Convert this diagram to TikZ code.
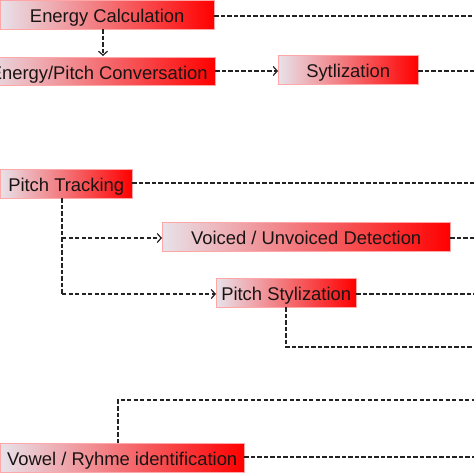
\documentclass[tikz,border=0pt]{standalone}
\usepackage{fontspec}
\setmainfont{Liberation Sans}
\usetikzlibrary{arrows.meta}
\definecolor{boxleft}{RGB}{232,226,234}
\definecolor{linecol}{RGB}{35,35,35}
\definecolor{txtcol}{RGB}{25,20,20}
\begin{document}
\begin{tikzpicture}[x=1pt,y=-1pt,
  box/.style={anchor=north west, left color=boxleft, right color=red, draw=red!35, line width=0.4pt,
    minimum height=29pt, inner sep=0pt, text height=17pt, text depth=1pt,
    font=\fontsize{18.4}{20}\selectfont, text=txtcol},
  conn/.style={draw=linecol, line width=1.1pt, dash pattern=on 4.2pt off 2.3pt},
  arr/.style={conn, -{Straight Barb[length=4pt,width=9pt,line width=1.2pt]}}]
\useasboundingbox (0,0) rectangle (474,474);
\node[box, minimum width=214pt] (ec) at (0,0) {Energy Calculation};
\node[box, minimum width=233pt, minimum height=28pt] (epc) at (-18,57) {Energy/Pitch Conversation};
\node[box, minimum width=140pt] (sty) at (278,55) {Sytlization};
\node[box, minimum width=132pt] (pt) at (0,169) {Pitch Tracking\hspace{10pt}};
\node[box, minimum width=288pt] (vud) at (162,222) {Voiced / Unvoiced Detection};
\node[box, minimum width=140pt] (ps) at (216,278) {Pitch Stylization};
\node[box, minimum width=244pt] (vr) at (0,443) {Vowel / Ryhme identification\hspace{4pt}};
\coordinate (e1) at (474,16);
\coordinate (e2) at (474,71);
\coordinate (e3) at (474,183);
\coordinate (e4) at (474,238);
\coordinate (e5) at (474,294);
\coordinate (e6) at (474,347);
\coordinate (e7) at (474,400);
\coordinate (e8) at (474,457);
\coordinate (b1) at (62,238);
\coordinate (b2) at (62,294);
\coordinate (c1) at (286,347);
\coordinate (c2) at (118,400);
\draw[conn] (ec.east |- e1) -- (e1);
\draw[arr] (ec.south -| 103,0) -- (103,56);
\draw[arr] (epc.east |- e2) -- (sty.west |- e2);
\draw[conn] (sty.east |- e2) -- (e2);
\draw[conn] (pt.east |- e3) -- (e3);
\draw[conn] (pt.south -| b1) -- (b2);
\draw[arr] (b1) -- (vud.west |- b1);
\draw[conn] (vud.east |- e4) -- (e4);
\draw[arr] (b2) -- (ps.west |- b2);
\draw[conn] (ps.east |- e5) -- (e5);
\draw[conn] (ps.south -| c1) -- (c1) -- (e6);
\draw[conn] (vr.north -| c2) -- (c2) -- (e7);
\draw[conn] (vr.east |- e8) -- (e8);
\end{tikzpicture}
\end{document}
